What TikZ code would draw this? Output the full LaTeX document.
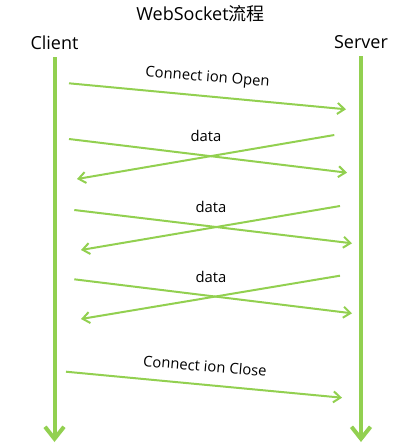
\documentclass[tikz,border=0pt]{standalone}
\usepackage{fontspec}
\setmainfont{Open Sans}
\newfontfamily\cjk{Noto Sans CJK SC}
\usetikzlibrary{arrows.meta}
\usetikzlibrary{calc}
\usetikzlibrary{positioning}
\definecolor{wsgreen}{RGB}{146,208,80}

\begin{document}
\begin{tikzpicture}[
	x=1pt, y=-1pt,
  > = {Straight Barb[length=7pt,width=11pt]},
  msg/.style = {draw=wsgreen, line width=2pt, ->},
  life/.style = {draw=wsgreen, line width=4pt, -{Straight Barb[length=12pt,width=19pt]}},
  head/.style = {font=\fontsize{18}{21}\selectfont, inner sep=0pt},
  lbl/.style = {font=\fontsize{14.8}{17}\selectfont, inner sep=0pt}
  ]
	\useasboundingbox (0,0) rectangle (416,445);

	\node[head] (title) at (200.5,14) {WebSocket{\cjk 流程}};
	\node[head] (client) at (54.5,42.5) {Client};
	\node[head] (server) at (361,42.5) {Server};

	\coordinate (c0) at (54.5,57);
	\coordinate (c1) at (54.5,442);
	\coordinate (s0) at (361,56);
	\coordinate (s1) at (361,442);

	\coordinate (@1) at (69,83.3);
	\coordinate (@2) at (346,109.3);
	\coordinate (@3) at (69,139);
	\coordinate (@4) at (347,172.7);
	\coordinate (@5) at (334.3,135);
	\coordinate (@6) at (77,179);
	\coordinate (@7) at (74.3,210);
	\coordinate (@8) at (352,243.3);
	\coordinate (@9) at (340,206);
	\coordinate (@10) at (81,250);
	\coordinate (@11) at (74.3,279.3);
	\coordinate (@12) at (352,313.3);
	\coordinate (@13) at (340,275.7);
	\coordinate (@14) at (81,319);
	\coordinate (@15) at (66,371.7);
	\coordinate (@16) at (342,397.7);

	\draw[life] (c0) to (c1);
	\draw[life] (s0) to (s1);

	\draw[msg] (@1) to (@2);
	\draw[msg] (@3) to (@4);
	\draw[msg] (@5) to (@6);
	\draw[msg] (@7) to (@8);
	\draw[msg] (@9) to (@10);
	\draw[msg] (@11) to (@12);
	\draw[msg] (@13) to (@14);
	\draw[msg] (@15) to (@16);

	\node[lbl, rotate=-4.7] (open) at (207.5,78) {Connect ion Open};
	\node[lbl] (data1) at (206,136) {data};
	\node[lbl] (data2) at (211,207) {data};
	\node[lbl] (data3) at (211,277) {data};
	\node[lbl, rotate=-4.7] (close) at (205,366) {Connect ion Close};
\end{tikzpicture}
\end{document}
